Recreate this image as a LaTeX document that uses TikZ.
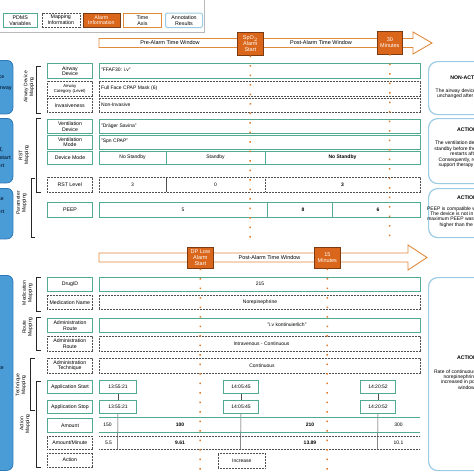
\documentclass[tikz,border=0pt]{standalone}
\usepackage{fontspec}
\setmainfont{Liberation Sans}
\usetikzlibrary{calc}
\definecolor{tealc}{HTML}{52AA93}
\definecolor{grayd}{HTML}{505050}
\definecolor{orf}{HTML}{D9661A}
\definecolor{ord}{HTML}{7A3A12}
\definecolor{orl}{HTML}{E08A3C}
\definecolor{annb}{HTML}{9CCBE4}
\definecolor{catf}{HTML}{4A9CD6}
\definecolor{catd}{HTML}{2C78B8}
\definecolor{dotc}{HTML}{E07A2A}
\definecolor{cattext}{HTML}{0F2A4A}
\newcommand\Bx[7]{\node[#1, anchor=north west, minimum width={(#5-#3)*1pt}, minimum height={(#6-#4)*1pt}] (#2) at (#3,#4) {#7};}
\tikzset{
 pdms/.style={draw=tealc, line width=1pt, fill=white, inner sep=0.3pt, align=center, font=\fontsize{5.2}{5.7}\selectfont},
 mapi/.style={draw=grayd, line width=0.55pt, dash pattern=on 0.9pt off 0.6pt, fill=white, inner sep=0.3pt, align=center, font=\fontsize{5.2}{5.7}\selectfont},
 alarm/.style={draw=ord, fill=orf, line width=0.7pt, text=white, align=center, inner sep=0pt, font=\fontsize{5.5}{6}\selectfont},
 taxis/.style={draw=orl, line width=0.9pt, fill=white, align=center, inner sep=0pt},
 annotlg/.style={draw=annb, line width=1pt, rounded corners=2pt, fill=white, align=center, inner sep=0pt},
 annot/.style={draw=annb, line width=1.2pt, rounded corners=9pt, fill=white},
 cat/.style={draw=catd, fill=catf, line width=0.8pt, rounded corners=6pt},
 cattxt/.style={text=cattext, font=\bfseries\fontsize{5.2}{5.7}\selectfont, anchor=east, inner sep=0pt},
 lgd/.style={font=\fontsize{5.3}{5.9}\selectfont},
 val/.style={font=\fontsize{5}{6}\selectfont, inner sep=0pt},
 bval/.style={font=\bfseries\fontsize{5}{6}\selectfont, inner sep=0pt},
 wtxt/.style={font=\fontsize{5.5}{6}\selectfont, inner sep=0pt},
 brk/.style={draw=black!85, line width=0.9pt},
 vtxt/.style={rotate=90, align=center, font=\fontsize{5}{5.6}\selectfont, inner sep=0pt},
 alarmline/.style={draw=dotc, line width=1.5pt, dash pattern=on 1.5pt off 8pt},
 tline/.style={draw=gray!60!black, line width=0.5pt},
 anhead/.style={font=\bfseries\fontsize{5.2}{6}\selectfont, inner sep=0pt},
 antxt/.style={font=\fontsize{5}{5.4}\selectfont, align=center, inner sep=0pt},
}
\begin{document}
\begin{tikzpicture}[x=1pt,y=-1pt]
\useasboundingbox (0,0) rectangle (474,474);
\clip (0,0) rectangle (474,474);
\fill[white] (0,0) rectangle (474,474);

% ---------- legend ----------
\node[draw=gray!55, line width=0.7pt, anchor=south east, minimum width=220pt, minimum height=50pt] (legend) at (204.5,32.5) {};
\Bx{pdms,lgd}{lg1}{3}{12.5}{36.5}{27}{PDMS\\Variables}
\Bx{mapi,lgd}{lg2}{41.5}{12.5}{79.5}{27}{Mapping\\Information}
\Bx{alarm,lgd}{lg3}{82.5}{12.5}{119.5}{27}{Alarm\\Information}
\Bx{taxis,lgd}{lg4}{123}{12.5}{161}{27}{Time\\Axis}
\Bx{annotlg,lgd}{lg5}{165}{12.5}{202}{27}{Annotation\\Results}

% ---------- first time axis ----------
\draw[taxis] (99,38.5) -- (413,38.5) -- (413,32) -- (432,43) -- (413,54) -- (413,47.5) -- (99,47.5) -- cycle;
\node[wtxt] (pre1) at (170,43) {Pre-Alarm Time Window};
\node[wtxt] (post1) at (321,43) {Post-Alarm Time Window};
\Bx{alarm}{spo}{237}{32}{263}{55}{SpO$_2$\\Alarm\\Start}
\Bx{alarm}{m30}{377}{30.5}{402}{53.5}{30\\Minutes}
\coordinate (e1) at (250,239);
\coordinate (e2) at (389.5,239);

% ---------- left category boxes ----------
\Bx{cat}{c1}{-30}{60}{12.5}{113.5}{}
\Bx{cat}{c2}{-30}{118}{12.5}{182.5}{}
\Bx{cat}{c3}{-30}{188}{12.5}{238.5}{}
\Bx{cat}{c4}{-30}{275}{12.5}{470}{}
\node[cattxt] (c1a) at (4.5,77) {Device};
\node[cattxt] (c1b) at (12,88) {Airway};
\node[cattxt] (c2a) at (3,150) {RST,};
\node[cattxt] (c2b) at (11,158) {Restart};
\node[cattxt] (c2c) at (4.5,166) {Support};
\node[cattxt] (c3a) at (4,199) {Device};
\node[cattxt] (c3b) at (4.5,212) {Support};
\node[cattxt] (c4a) at (4,368) {Rate};

% ---------- right annotation boxes ----------
\Bx{annot}{a1}{428}{61}{510}{114}{}
\Bx{annot}{a2}{428}{118}{510}{183}{}
\Bx{annot}{a3}{428}{188}{510}{237}{}
\Bx{annot}{a4}{428}{277}{510}{470}{}
\node[anhead] (a1h) at (467,78) {NON-ACTION};
\node[antxt] (a1t) at (467,93.5) {The airway device remained\\unchanged after the alarm.};
\node[anhead] (a2h) at (467,130) {ACTION};
\node[antxt] (a2t) at (467,154.5) {The ventilation device was in\\standby before the alarm and\\restarts after it.\\Consequently, respiratory\\support therapy changed.};
\node[anhead] (a3h) at (467,197.5) {ACTION};
\node[antxt] (a3t) at (467,217) {PEEP is compatible with the device.\\The device is not in standby. The\\maximum PEEP was adjusted to be\\higher than the baseline.};
\node[anhead] (a4h) at (467,358) {ACTION};
\node[antxt] (a4t) at (467,379.5) {Rate of continuous infusion of\\norepinephrine - was\\increased in post-alarm\\window.};

% ---------- brackets and mapping labels ----------
\draw[brk] (40.5,66) -- (36,66) -- (36,113) -- (40.5,113);
\draw[brk] (40.5,118.5) -- (36,118.5) -- (36,192) -- (40.5,192);
\draw[brk] (35,178) -- (31,178) -- (31,237) -- (35,237);
\node[vtxt] (m1) at (29,87) {Airway Device\\Mapping};
\node[vtxt] (m2) at (24,155) {RST\\Mapping};
\node[vtxt] (m3) at (21.5,203) {Parameter\\Mapping};

% ---------- top rows ----------
\Bx{pdms}{l1}{47}{63}{92}{78}{Airway\\Device}
\Bx{mapi,font=\fontsize{4.3}{5.4}\selectfont}{l2}{47}{81}{92}{96}{Airway\\Category (Level)}
\Bx{mapi}{l3}{47}{98}{92}{112}{Invasiveness}
\Bx{pdms}{l4}{47}{119}{92}{133}{Ventilation\\Device}
\Bx{pdms}{l5}{47}{135}{92}{148.5}{Ventilation\\Mode}
\Bx{pdms}{l6}{47}{150.5}{92}{164}{Device Mode}
\Bx{mapi}{l7}{47}{177}{92}{192}{RST Level}
\Bx{pdms}{l8}{47}{202}{92}{217}{PEEP}

\Bx{pdms}{v1}{99}{62.5}{420}{78}{}
\Bx{mapi}{v2}{99}{80.5}{420}{96}{}
\Bx{mapi}{v3}{99}{98}{420}{112}{}
\Bx{pdms}{v4}{99}{119}{420}{133}{}
\Bx{pdms}{v5}{99}{135}{420}{148.5}{}
\Bx{pdms}{v6}{99}{150.5}{420}{164}{}
\Bx{mapi}{v7}{99}{177}{420}{192}{}
\Bx{pdms}{v8}{99}{202}{420}{217}{}
\node[val, anchor=west] (t1) at (101,70) {"FFAF30: i.v"};
\node[val, anchor=west] (t2) at (101,88) {Full Face CPAP Mask (6)};
\node[val, anchor=west] (t3) at (101,105) {Non-Invasive};
\node[val, anchor=west] (t4) at (101,126) {"Dräger Savina"};
\node[val, anchor=west] (t5) at (101,141.5) {"Spn CPAP"};
\draw[draw=tealc, line width=1pt] (166,150.5) -- (166,164) (265.5,150.5) -- (265.5,164);
\node[val] (t6a) at (132.5,157.3) {No Standby};
\node[val] (t6b) at (215.5,157.3) {Standby};
\node[bval] (t6c) at (342.5,157.3) {No Standby};
\draw[draw=grayd, line width=0.6pt] (166,177) -- (166,192);
\draw[mapi] (265.5,177) -- (265.5,192);
\node[val] (t7a) at (132.5,184.5) {3};
\node[val] (t7b) at (215.5,184.5) {0};
\node[bval] (t7c) at (342.5,184.5) {3};
\draw[draw=tealc, line width=1pt] (267.5,202) -- (267.5,217) (332,202) -- (332,217);
\node[val] (t8a) at (183,209.5) {5};
\node[bval] (t8b) at (303,209.5) {8};
\node[bval] (t8c) at (378,209.5) {6};

% ---------- second time axis ----------
\draw[taxis] (99,253) -- (408,253) -- (408,245) -- (427,257.5) -- (408,270) -- (408,262) -- (99,262) -- cycle;
\node[wtxt] (post2) at (269.5,257.5) {Post-Alarm Time Window};
\Bx{alarm}{dpl}{187}{247}{213}{268}{DP Low\\Alarm\\Start}
\Bx{alarm}{m15}{314}{247}{340}{268}{15\\Minutes}
\coordinate (e3) at (200,472);
\coordinate (e4) at (327,472);

% ---------- bottom brackets ----------
\draw[brk] (40.5,277) -- (36,277) -- (36,311) -- (40.5,311);
\draw[brk] (40.5,317.5) -- (36,317.5) -- (36,350.5) -- (40.5,350.5);
\draw[brk] (34.5,358) -- (30,358) -- (30,410) -- (34.5,410);
\draw[brk] (40.5,381) -- (36,381) -- (36,467) -- (40.5,467);
\node[vtxt] (m4) at (27.5,293) {Medication\\Mapping};
\node[vtxt] (m5) at (27.5,327) {Route\\Mapping};
\node[vtxt] (m6) at (21,385) {Technique\\Mapping};
\node[vtxt] (m7) at (25,424) {Action\\Mapping};

% ---------- bottom rows ----------
\Bx{pdms}{l9}{47}{277}{92}{291}{DrugID}
\Bx{mapi}{l10}{47}{295}{92}{309}{Medication Name}
\Bx{pdms}{l11}{47}{318}{92}{332}{Administration\\Route}
\Bx{mapi}{l12}{47}{336}{92}{351}{Administration\\Route}
\Bx{mapi}{l13}{47}{358}{92}{373}{Administration\\Technique}
\Bx{pdms}{l14}{47}{380}{92}{393}{Application Start}
\Bx{pdms}{l15}{47}{399.5}{92}{413}{Application Stop}
\Bx{pdms}{l16}{47}{417.5}{92}{432}{Amount}
\Bx{mapi}{l17}{47}{436}{92}{449}{Amount/Minute}
\Bx{mapi}{l18}{47}{452.5}{92}{467}{Action}

\Bx{pdms}{v9}{99}{277}{420}{291}{}
\Bx{mapi}{v10}{99}{295}{420}{309}{}
\Bx{pdms}{v11}{99}{318}{420}{332}{}
\Bx{mapi}{v12}{99}{336}{420}{351}{}
\Bx{mapi}{v13}{99}{358}{420}{373}{}
\node[val] (t9) at (260,284) {215};
\node[val] (t10) at (260,302) {Norepinephrine};
\node[val] (t11) at (287,325) {"i.v kontinuierlich"};
\node[val] (t12) at (261.5,343.5) {Intravenous - Continuous};
\node[val] (t13) at (262,365.5) {Continuous};

% time boxes
\Bx{pdms,font=\fontsize{5}{6}\selectfont}{s1}{99}{380}{136}{393}{13:55:21}
\Bx{pdms,font=\fontsize{5}{6}\selectfont}{s2}{223}{380}{258}{393}{14:05:45}
\Bx{pdms,font=\fontsize{5}{6}\selectfont}{s3}{360}{380}{395}{393}{14:20:52}
\Bx{pdms,font=\fontsize{5}{6}\selectfont}{p1}{99}{399.5}{136}{413}{13:55:21}
\Bx{pdms,font=\fontsize{5}{6}\selectfont}{p2}{223}{399.5}{258}{413}{14:05:45}
\Bx{pdms,font=\fontsize{5}{6}\selectfont}{p3}{360}{399.5}{395}{413}{14:20:52}
\coordinate (b1) at (117.5,449);
\coordinate (b2) at (240.5,449);
\coordinate (b3) at (377.5,449);
\draw[tline] (s1.south) -- (p1.north);
\draw[tline] (s2.south) -- (p2.north);
\draw[tline] (s3.south) -- (p3.north);
\draw[tline] (p1.south) -- (b1);
\draw[tline] (p2.south) -- (b2);
\draw[tline] (p3.south) -- (b3);

% amount rows
\draw[draw=tealc, line width=1pt] (99,417.5) -- (420,417.5) (99,432) -- (420,432);
\draw[mapi] (99,436) -- (420,436) (99,449) -- (420,449);
\node[val] (am1) at (107.5,425) {150};
\node[bval] (am2) at (180,425) {100};
\node[bval] (am3) at (310,425) {210};
\node[val] (am4) at (398.5,425) {300};
\node[val] (ap1) at (108.5,442.5) {5.5};
\node[bval] (ap2) at (180,442.5) {9.61};
\node[bval] (ap3) at (310,442.5) {13.89};
\node[val] (ap4) at (398.5,442.5) {10.1};
\Bx{mapi,font=\fontsize{5}{6}\selectfont}{inc}{218}{453}{265}{468}{Increase}

% ---------- alarm dotted lines (on top) ----------
\draw[alarmline] (spo.south) -- (e1);
\draw[alarmline] (m30.south) -- (e2);
\draw[alarmline] (dpl.south) -- (e3);
\draw[alarmline] (m15.south) -- (e4);
\end{tikzpicture}
\end{document}
